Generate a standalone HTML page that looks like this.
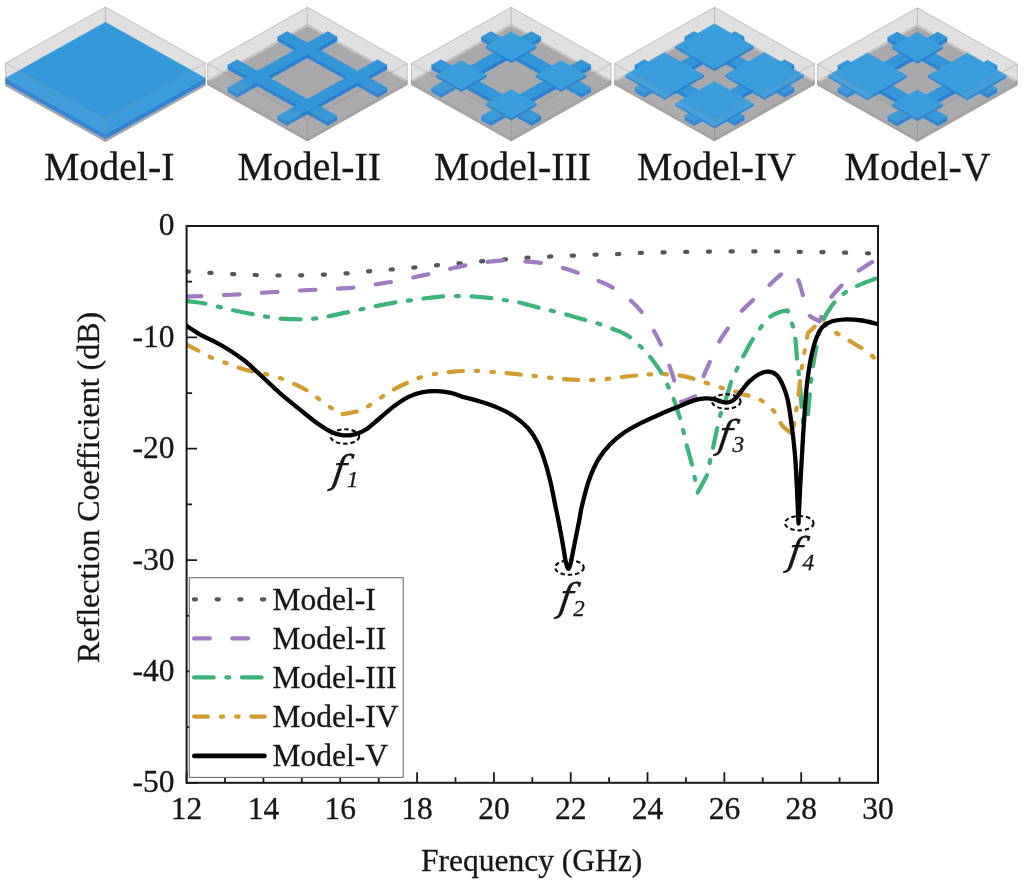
<!DOCTYPE html>
<html lang="en"><head><meta charset="utf-8"><title>Reflection coefficient of Model-I to Model-V</title>
<style>html,body{margin:0;padding:0;background:#fff}body{width:1025px;height:889px;overflow:hidden}svg{display:block}text{font-family:"Liberation Serif","Times New Roman",serif;fill:#161616;stroke:#161616;stroke-width:0.3px}</style>
</head><body>
<svg width="1025" height="889" viewBox="0 0 1025 889" role="img" aria-label="Reflection coefficient versus frequency for Model-I to Model-V">
<rect width="1025" height="889" fill="#ffffff"/>
<g><polygon points="105.40,7.10 205.20,63.00 205.20,85.60 105.40,141.50 5.60,85.60 5.60,63.00" fill="#e0e0e0" stroke="#e0e0e0" stroke-width="0.5" stroke-linejoin="round"/><polygon points="5.60,83.20 105.40,139.10 205.20,83.20 205.20,85.60 105.40,141.50 5.60,85.60" fill="#a6a6a9" stroke="#a6a6a9" stroke-width="0.5" stroke-linejoin="round"/><polygon points="5.60,78.10 105.40,134.00 105.40,139.10 5.60,83.20" fill="#2b7fd0" stroke="#2b7fd0" stroke-width="0.5" stroke-linejoin="round"/><polygon points="205.20,78.10 105.40,134.00 105.40,139.10 205.20,83.20" fill="#2b7fd0" stroke="#2b7fd0" stroke-width="0.5" stroke-linejoin="round"/><polygon points="105.40,22.20 205.20,78.10 105.40,134.00 5.60,78.10" fill="#3499da" stroke="#3499da" stroke-width="0.5" stroke-linejoin="round"/><polygon points="5.60,63.00 105.40,118.90 105.40,141.50 5.60,85.60" fill="#e8e8e8" fill-opacity="0.07"/><polygon points="205.20,63.00 105.40,118.90 105.40,141.50 205.20,85.60" fill="#e8e8e8" fill-opacity="0.04"/><polygon points="105.40,7.10 205.20,63.00 105.40,118.90 5.60,63.00" stroke="#8c8c8c" stroke-width="0.7" fill="none" stroke-opacity="0.6"/><line x1="5.60" y1="63.00" x2="5.60" y2="85.60" stroke="#8c8c8c" stroke-width="0.7" fill="none" stroke-opacity="0.6"/><line x1="205.20" y1="63.00" x2="205.20" y2="85.60" stroke="#8c8c8c" stroke-width="0.7" fill="none" stroke-opacity="0.6"/><line x1="105.40" y1="118.90" x2="105.40" y2="141.50" stroke="#8c8c8c" stroke-width="0.7" fill="none" stroke-opacity="0.6"/><line x1="105.40" y1="7.10" x2="105.40" y2="22.20" stroke="#9a9a9a" stroke-width="0.7" stroke-opacity="0.7"/><line x1="5.60" y1="85.60" x2="105.40" y2="141.50" stroke="#8c8c8c" stroke-width="0.7" fill="none" stroke-opacity="0.6"/><line x1="105.40" y1="141.50" x2="205.20" y2="85.60" stroke="#8c8c8c" stroke-width="0.7" fill="none" stroke-opacity="0.6"/></g>
<g><polygon points="307.40,7.30 407.20,63.60 407.20,84.60 307.40,140.90 207.60,84.60 207.60,63.60" fill="#e0e0e0" stroke="#e0e0e0" stroke-width="0.5" stroke-linejoin="round"/><polygon points="207.60,80.60 307.40,136.90 407.20,80.60 407.20,84.60 307.40,140.90 207.60,84.60" fill="#a2a2a5" stroke="#a2a2a5" stroke-width="0.5" stroke-linejoin="round"/><polygon points="307.40,24.30 407.20,80.60 307.40,136.90 207.60,80.60" fill="#a9a9ac" stroke="#a9a9ac" stroke-width="0.5" stroke-linejoin="round"/><polygon points="207.60,80.60 307.40,24.30 407.20,80.60 403.65,80.60 307.40,26.30 211.15,80.60" fill="#c6c6c8"/><polygon points="277.76,37.02 377.56,93.32 377.56,97.32 277.76,41.02" fill="#2c84d2" stroke="#2c84d2" stroke-width="0.5" stroke-linejoin="round"/><polygon points="386.94,88.03 377.56,93.32 377.56,97.32 386.94,92.03" fill="#2a7ecf" stroke="#2a7ecf" stroke-width="0.5" stroke-linejoin="round"/><polygon points="287.14,31.73 386.94,88.03 377.56,93.32 277.76,37.02" fill="#3296d8" stroke="#3296d8" stroke-width="0.5" stroke-linejoin="round"/><polygon points="227.86,88.03 237.24,93.32 237.24,97.32 227.86,92.03" fill="#2c84d2" stroke="#2c84d2" stroke-width="0.5" stroke-linejoin="round"/><polygon points="337.04,37.02 237.24,93.32 237.24,97.32 337.04,41.02" fill="#2a7ecf" stroke="#2a7ecf" stroke-width="0.5" stroke-linejoin="round"/><polygon points="327.66,31.73 337.04,37.02 237.24,93.32 227.86,88.03" fill="#3296d8" stroke="#3296d8" stroke-width="0.5" stroke-linejoin="round"/><polygon points="227.86,65.17 327.66,121.47 327.66,125.47 227.86,69.17" fill="#2c84d2" stroke="#2c84d2" stroke-width="0.5" stroke-linejoin="round"/><polygon points="337.04,116.18 327.66,121.47 327.66,125.47 337.04,120.18" fill="#2a7ecf" stroke="#2a7ecf" stroke-width="0.5" stroke-linejoin="round"/><polygon points="237.24,59.88 337.04,116.18 327.66,121.47 227.86,65.17" fill="#3296d8" stroke="#3296d8" stroke-width="0.5" stroke-linejoin="round"/><polygon points="277.76,116.18 287.14,121.47 287.14,125.47 277.76,120.18" fill="#2c84d2" stroke="#2c84d2" stroke-width="0.5" stroke-linejoin="round"/><polygon points="386.94,65.17 287.14,121.47 287.14,125.47 386.94,69.17" fill="#2a7ecf" stroke="#2a7ecf" stroke-width="0.5" stroke-linejoin="round"/><polygon points="377.56,59.88 386.94,65.17 287.14,121.47 277.76,116.18" fill="#3296d8" stroke="#3296d8" stroke-width="0.5" stroke-linejoin="round"/><polygon points="287.14,31.73 386.94,88.03 377.56,93.32 277.76,37.02" fill="#3296d8" stroke="#3296d8" stroke-width="0.5" stroke-linejoin="round"/><polygon points="327.66,31.73 337.04,37.02 237.24,93.32 227.86,88.03" fill="#3296d8" stroke="#3296d8" stroke-width="0.5" stroke-linejoin="round"/><polygon points="237.24,59.88 337.04,116.18 327.66,121.47 227.86,65.17" fill="#3296d8" stroke="#3296d8" stroke-width="0.5" stroke-linejoin="round"/><polygon points="377.56,59.88 386.94,65.17 287.14,121.47 277.76,116.18" fill="#3296d8" stroke="#3296d8" stroke-width="0.5" stroke-linejoin="round"/><polygon points="207.60,63.60 307.40,119.90 307.40,140.90 207.60,84.60" fill="#e8e8e8" fill-opacity="0.07"/><polygon points="407.20,63.60 307.40,119.90 307.40,140.90 407.20,84.60" fill="#e8e8e8" fill-opacity="0.04"/><polygon points="307.40,7.30 407.20,63.60 307.40,119.90 207.60,63.60" stroke="#8c8c8c" stroke-width="0.7" fill="none" stroke-opacity="0.6"/><line x1="207.60" y1="63.60" x2="207.60" y2="84.60" stroke="#8c8c8c" stroke-width="0.7" fill="none" stroke-opacity="0.6"/><line x1="407.20" y1="63.60" x2="407.20" y2="84.60" stroke="#8c8c8c" stroke-width="0.7" fill="none" stroke-opacity="0.6"/><line x1="307.40" y1="119.90" x2="307.40" y2="140.90" stroke="#8c8c8c" stroke-width="0.7" fill="none" stroke-opacity="0.6"/><line x1="307.40" y1="7.30" x2="307.40" y2="24.30" stroke="#9a9a9a" stroke-width="0.7" stroke-opacity="0.7"/><line x1="207.60" y1="84.60" x2="307.40" y2="140.90" stroke="#8c8c8c" stroke-width="0.7" fill="none" stroke-opacity="0.6"/><line x1="307.40" y1="140.90" x2="407.20" y2="84.60" stroke="#8c8c8c" stroke-width="0.7" fill="none" stroke-opacity="0.6"/></g>
<g><polygon points="511.20,7.30 611.00,63.60 611.00,84.60 511.20,140.90 411.40,84.60 411.40,63.60" fill="#e0e0e0" stroke="#e0e0e0" stroke-width="0.5" stroke-linejoin="round"/><polygon points="411.40,80.60 511.20,136.90 611.00,80.60 611.00,84.60 511.20,140.90 411.40,84.60" fill="#a2a2a5" stroke="#a2a2a5" stroke-width="0.5" stroke-linejoin="round"/><polygon points="511.20,24.30 611.00,80.60 511.20,136.90 411.40,80.60" fill="#a9a9ac" stroke="#a9a9ac" stroke-width="0.5" stroke-linejoin="round"/><polygon points="411.40,80.60 511.20,24.30 611.00,80.60 607.45,80.60 511.20,26.30 414.95,80.60" fill="#c6c6c8"/><polygon points="481.56,37.02 581.36,93.32 581.36,97.32 481.56,41.02" fill="#2c84d2" stroke="#2c84d2" stroke-width="0.5" stroke-linejoin="round"/><polygon points="590.74,88.03 581.36,93.32 581.36,97.32 590.74,92.03" fill="#2a7ecf" stroke="#2a7ecf" stroke-width="0.5" stroke-linejoin="round"/><polygon points="490.94,31.73 590.74,88.03 581.36,93.32 481.56,37.02" fill="#3296d8" stroke="#3296d8" stroke-width="0.5" stroke-linejoin="round"/><polygon points="431.66,88.03 441.04,93.32 441.04,97.32 431.66,92.03" fill="#2c84d2" stroke="#2c84d2" stroke-width="0.5" stroke-linejoin="round"/><polygon points="540.84,37.02 441.04,93.32 441.04,97.32 540.84,41.02" fill="#2a7ecf" stroke="#2a7ecf" stroke-width="0.5" stroke-linejoin="round"/><polygon points="531.46,31.73 540.84,37.02 441.04,93.32 431.66,88.03" fill="#3296d8" stroke="#3296d8" stroke-width="0.5" stroke-linejoin="round"/><polygon points="431.66,65.17 531.46,121.47 531.46,125.47 431.66,69.17" fill="#2c84d2" stroke="#2c84d2" stroke-width="0.5" stroke-linejoin="round"/><polygon points="540.84,116.18 531.46,121.47 531.46,125.47 540.84,120.18" fill="#2a7ecf" stroke="#2a7ecf" stroke-width="0.5" stroke-linejoin="round"/><polygon points="441.04,59.88 540.84,116.18 531.46,121.47 431.66,65.17" fill="#3296d8" stroke="#3296d8" stroke-width="0.5" stroke-linejoin="round"/><polygon points="481.56,116.18 490.94,121.47 490.94,125.47 481.56,120.18" fill="#2c84d2" stroke="#2c84d2" stroke-width="0.5" stroke-linejoin="round"/><polygon points="590.74,65.17 490.94,121.47 490.94,125.47 590.74,69.17" fill="#2a7ecf" stroke="#2a7ecf" stroke-width="0.5" stroke-linejoin="round"/><polygon points="581.36,59.88 590.74,65.17 490.94,121.47 481.56,116.18" fill="#3296d8" stroke="#3296d8" stroke-width="0.5" stroke-linejoin="round"/><polygon points="490.94,31.73 590.74,88.03 581.36,93.32 481.56,37.02" fill="#3296d8" stroke="#3296d8" stroke-width="0.5" stroke-linejoin="round"/><polygon points="531.46,31.73 540.84,37.02 441.04,93.32 431.66,88.03" fill="#3296d8" stroke="#3296d8" stroke-width="0.5" stroke-linejoin="round"/><polygon points="441.04,59.88 540.84,116.18 531.46,121.47 431.66,65.17" fill="#3296d8" stroke="#3296d8" stroke-width="0.5" stroke-linejoin="round"/><polygon points="581.36,59.88 590.74,65.17 490.94,121.47 481.56,116.18" fill="#3296d8" stroke="#3296d8" stroke-width="0.5" stroke-linejoin="round"/><polygon points="486.25,46.15 511.20,60.52 511.20,62.72 486.25,48.35" fill="#2c84d2" stroke="#2c84d2" stroke-width="0.5" stroke-linejoin="round"/><polygon points="536.15,46.15 511.20,60.52 511.20,62.72 536.15,48.35" fill="#2a7ecf" stroke="#2a7ecf" stroke-width="0.5" stroke-linejoin="round"/><polygon points="511.20,31.78 536.15,46.15 511.20,60.52 486.25,46.15" fill="#3a9edd" stroke="#3a9edd" stroke-width="0.5" stroke-linejoin="round"/><polygon points="436.35,74.90 461.30,89.27 461.30,91.47 436.35,77.10" fill="#2c84d2" stroke="#2c84d2" stroke-width="0.5" stroke-linejoin="round"/><polygon points="486.25,74.90 461.30,89.27 461.30,91.47 486.25,77.10" fill="#2a7ecf" stroke="#2a7ecf" stroke-width="0.5" stroke-linejoin="round"/><polygon points="461.30,60.52 486.25,74.90 461.30,89.27 436.35,74.90" fill="#3a9edd" stroke="#3a9edd" stroke-width="0.5" stroke-linejoin="round"/><polygon points="536.15,74.90 561.10,89.27 561.10,91.47 536.15,77.10" fill="#2c84d2" stroke="#2c84d2" stroke-width="0.5" stroke-linejoin="round"/><polygon points="586.05,74.90 561.10,89.27 561.10,91.47 586.05,77.10" fill="#2a7ecf" stroke="#2a7ecf" stroke-width="0.5" stroke-linejoin="round"/><polygon points="561.10,60.52 586.05,74.90 561.10,89.27 536.15,74.90" fill="#3a9edd" stroke="#3a9edd" stroke-width="0.5" stroke-linejoin="round"/><polygon points="486.25,103.65 511.20,118.02 511.20,120.22 486.25,105.85" fill="#2c84d2" stroke="#2c84d2" stroke-width="0.5" stroke-linejoin="round"/><polygon points="536.15,103.65 511.20,118.02 511.20,120.22 536.15,105.85" fill="#2a7ecf" stroke="#2a7ecf" stroke-width="0.5" stroke-linejoin="round"/><polygon points="511.20,89.27 536.15,103.65 511.20,118.02 486.25,103.65" fill="#3a9edd" stroke="#3a9edd" stroke-width="0.5" stroke-linejoin="round"/><polygon points="411.40,63.60 511.20,119.90 511.20,140.90 411.40,84.60" fill="#e8e8e8" fill-opacity="0.07"/><polygon points="611.00,63.60 511.20,119.90 511.20,140.90 611.00,84.60" fill="#e8e8e8" fill-opacity="0.04"/><polygon points="511.20,7.30 611.00,63.60 511.20,119.90 411.40,63.60" stroke="#8c8c8c" stroke-width="0.7" fill="none" stroke-opacity="0.6"/><line x1="411.40" y1="63.60" x2="411.40" y2="84.60" stroke="#8c8c8c" stroke-width="0.7" fill="none" stroke-opacity="0.6"/><line x1="611.00" y1="63.60" x2="611.00" y2="84.60" stroke="#8c8c8c" stroke-width="0.7" fill="none" stroke-opacity="0.6"/><line x1="511.20" y1="119.90" x2="511.20" y2="140.90" stroke="#8c8c8c" stroke-width="0.7" fill="none" stroke-opacity="0.6"/><line x1="511.20" y1="7.30" x2="511.20" y2="24.30" stroke="#9a9a9a" stroke-width="0.7" stroke-opacity="0.7"/><line x1="411.40" y1="84.60" x2="511.20" y2="140.90" stroke="#8c8c8c" stroke-width="0.7" fill="none" stroke-opacity="0.6"/><line x1="511.20" y1="140.90" x2="611.00" y2="84.60" stroke="#8c8c8c" stroke-width="0.7" fill="none" stroke-opacity="0.6"/></g>
<g><polygon points="714.50,7.30 814.30,63.60 814.30,84.60 714.50,140.90 614.70,84.60 614.70,63.60" fill="#e0e0e0" stroke="#e0e0e0" stroke-width="0.5" stroke-linejoin="round"/><polygon points="614.70,80.60 714.50,136.90 814.30,80.60 814.30,84.60 714.50,140.90 614.70,84.60" fill="#a2a2a5" stroke="#a2a2a5" stroke-width="0.5" stroke-linejoin="round"/><polygon points="714.50,24.30 814.30,80.60 714.50,136.90 614.70,80.60" fill="#a9a9ac" stroke="#a9a9ac" stroke-width="0.5" stroke-linejoin="round"/><polygon points="614.70,80.60 714.50,24.30 814.30,80.60 810.75,80.60 714.50,26.30 618.25,80.60" fill="#c6c6c8"/><polygon points="684.86,37.02 784.66,93.32 784.66,97.32 684.86,41.02" fill="#2c84d2" stroke="#2c84d2" stroke-width="0.5" stroke-linejoin="round"/><polygon points="794.04,88.03 784.66,93.32 784.66,97.32 794.04,92.03" fill="#2a7ecf" stroke="#2a7ecf" stroke-width="0.5" stroke-linejoin="round"/><polygon points="694.24,31.73 794.04,88.03 784.66,93.32 684.86,37.02" fill="#3296d8" stroke="#3296d8" stroke-width="0.5" stroke-linejoin="round"/><polygon points="634.96,88.03 644.34,93.32 644.34,97.32 634.96,92.03" fill="#2c84d2" stroke="#2c84d2" stroke-width="0.5" stroke-linejoin="round"/><polygon points="744.14,37.02 644.34,93.32 644.34,97.32 744.14,41.02" fill="#2a7ecf" stroke="#2a7ecf" stroke-width="0.5" stroke-linejoin="round"/><polygon points="734.76,31.73 744.14,37.02 644.34,93.32 634.96,88.03" fill="#3296d8" stroke="#3296d8" stroke-width="0.5" stroke-linejoin="round"/><polygon points="634.96,65.17 734.76,121.47 734.76,125.47 634.96,69.17" fill="#2c84d2" stroke="#2c84d2" stroke-width="0.5" stroke-linejoin="round"/><polygon points="744.14,116.18 734.76,121.47 734.76,125.47 744.14,120.18" fill="#2a7ecf" stroke="#2a7ecf" stroke-width="0.5" stroke-linejoin="round"/><polygon points="644.34,59.88 744.14,116.18 734.76,121.47 634.96,65.17" fill="#3296d8" stroke="#3296d8" stroke-width="0.5" stroke-linejoin="round"/><polygon points="684.86,116.18 694.24,121.47 694.24,125.47 684.86,120.18" fill="#2c84d2" stroke="#2c84d2" stroke-width="0.5" stroke-linejoin="round"/><polygon points="794.04,65.17 694.24,121.47 694.24,125.47 794.04,69.17" fill="#2a7ecf" stroke="#2a7ecf" stroke-width="0.5" stroke-linejoin="round"/><polygon points="784.66,59.88 794.04,65.17 694.24,121.47 684.86,116.18" fill="#3296d8" stroke="#3296d8" stroke-width="0.5" stroke-linejoin="round"/><polygon points="694.24,31.73 794.04,88.03 784.66,93.32 684.86,37.02" fill="#3296d8" stroke="#3296d8" stroke-width="0.5" stroke-linejoin="round"/><polygon points="734.76,31.73 744.14,37.02 644.34,93.32 634.96,88.03" fill="#3296d8" stroke="#3296d8" stroke-width="0.5" stroke-linejoin="round"/><polygon points="644.34,59.88 744.14,116.18 734.76,121.47 634.96,65.17" fill="#3296d8" stroke="#3296d8" stroke-width="0.5" stroke-linejoin="round"/><polygon points="784.66,59.88 794.04,65.17 694.24,121.47 684.86,116.18" fill="#3296d8" stroke="#3296d8" stroke-width="0.5" stroke-linejoin="round"/><polygon points="675.58,46.15 714.50,68.58 714.50,70.78 675.58,48.35" fill="#2c84d2" stroke="#2c84d2" stroke-width="0.5" stroke-linejoin="round"/><polygon points="753.42,46.15 714.50,68.58 714.50,70.78 753.42,48.35" fill="#2a7ecf" stroke="#2a7ecf" stroke-width="0.5" stroke-linejoin="round"/><polygon points="714.50,23.73 753.42,46.15 714.50,68.58 675.58,46.15" fill="#3a9edd" stroke="#3a9edd" stroke-width="0.5" stroke-linejoin="round"/><polygon points="625.68,74.90 664.60,97.33 664.60,99.53 625.68,77.10" fill="#2c84d2" stroke="#2c84d2" stroke-width="0.5" stroke-linejoin="round"/><polygon points="703.52,74.90 664.60,97.33 664.60,99.53 703.52,77.10" fill="#2a7ecf" stroke="#2a7ecf" stroke-width="0.5" stroke-linejoin="round"/><polygon points="664.60,52.47 703.52,74.90 664.60,97.33 625.68,74.90" fill="#3a9edd" stroke="#3a9edd" stroke-width="0.5" stroke-linejoin="round"/><polygon points="725.48,74.90 764.40,97.33 764.40,99.53 725.48,77.10" fill="#2c84d2" stroke="#2c84d2" stroke-width="0.5" stroke-linejoin="round"/><polygon points="803.32,74.90 764.40,97.33 764.40,99.53 803.32,77.10" fill="#2a7ecf" stroke="#2a7ecf" stroke-width="0.5" stroke-linejoin="round"/><polygon points="764.40,52.47 803.32,74.90 764.40,97.33 725.48,74.90" fill="#3a9edd" stroke="#3a9edd" stroke-width="0.5" stroke-linejoin="round"/><polygon points="675.58,103.65 714.50,126.07 714.50,128.27 675.58,105.85" fill="#2c84d2" stroke="#2c84d2" stroke-width="0.5" stroke-linejoin="round"/><polygon points="753.42,103.65 714.50,126.07 714.50,128.27 753.42,105.85" fill="#2a7ecf" stroke="#2a7ecf" stroke-width="0.5" stroke-linejoin="round"/><polygon points="714.50,81.22 753.42,103.65 714.50,126.07 675.58,103.65" fill="#3a9edd" stroke="#3a9edd" stroke-width="0.5" stroke-linejoin="round"/><polygon points="614.70,63.60 714.50,119.90 714.50,140.90 614.70,84.60" fill="#e8e8e8" fill-opacity="0.07"/><polygon points="814.30,63.60 714.50,119.90 714.50,140.90 814.30,84.60" fill="#e8e8e8" fill-opacity="0.04"/><polygon points="714.50,7.30 814.30,63.60 714.50,119.90 614.70,63.60" stroke="#8c8c8c" stroke-width="0.7" fill="none" stroke-opacity="0.6"/><line x1="614.70" y1="63.60" x2="614.70" y2="84.60" stroke="#8c8c8c" stroke-width="0.7" fill="none" stroke-opacity="0.6"/><line x1="814.30" y1="63.60" x2="814.30" y2="84.60" stroke="#8c8c8c" stroke-width="0.7" fill="none" stroke-opacity="0.6"/><line x1="714.50" y1="119.90" x2="714.50" y2="140.90" stroke="#8c8c8c" stroke-width="0.7" fill="none" stroke-opacity="0.6"/><line x1="714.50" y1="7.30" x2="714.50" y2="24.30" stroke="#9a9a9a" stroke-width="0.7" stroke-opacity="0.7"/><line x1="614.70" y1="84.60" x2="714.50" y2="140.90" stroke="#8c8c8c" stroke-width="0.7" fill="none" stroke-opacity="0.6"/><line x1="714.50" y1="140.90" x2="814.30" y2="84.60" stroke="#8c8c8c" stroke-width="0.7" fill="none" stroke-opacity="0.6"/></g>
<g><polygon points="917.40,7.80 1017.20,64.10 1017.20,85.10 917.40,141.40 817.60,85.10 817.60,64.10" fill="#e0e0e0" stroke="#e0e0e0" stroke-width="0.5" stroke-linejoin="round"/><polygon points="817.60,81.10 917.40,137.40 1017.20,81.10 1017.20,85.10 917.40,141.40 817.60,85.10" fill="#a2a2a5" stroke="#a2a2a5" stroke-width="0.5" stroke-linejoin="round"/><polygon points="917.40,24.80 1017.20,81.10 917.40,137.40 817.60,81.10" fill="#a9a9ac" stroke="#a9a9ac" stroke-width="0.5" stroke-linejoin="round"/><polygon points="817.60,81.10 917.40,24.80 1017.20,81.10 1013.65,81.10 917.40,26.80 821.15,81.10" fill="#c6c6c8"/><polygon points="887.76,37.52 987.56,93.82 987.56,97.82 887.76,41.52" fill="#2c84d2" stroke="#2c84d2" stroke-width="0.5" stroke-linejoin="round"/><polygon points="996.94,88.53 987.56,93.82 987.56,97.82 996.94,92.53" fill="#2a7ecf" stroke="#2a7ecf" stroke-width="0.5" stroke-linejoin="round"/><polygon points="897.14,32.23 996.94,88.53 987.56,93.82 887.76,37.52" fill="#3296d8" stroke="#3296d8" stroke-width="0.5" stroke-linejoin="round"/><polygon points="837.86,88.53 847.24,93.82 847.24,97.82 837.86,92.53" fill="#2c84d2" stroke="#2c84d2" stroke-width="0.5" stroke-linejoin="round"/><polygon points="947.04,37.52 847.24,93.82 847.24,97.82 947.04,41.52" fill="#2a7ecf" stroke="#2a7ecf" stroke-width="0.5" stroke-linejoin="round"/><polygon points="937.66,32.23 947.04,37.52 847.24,93.82 837.86,88.53" fill="#3296d8" stroke="#3296d8" stroke-width="0.5" stroke-linejoin="round"/><polygon points="837.86,65.67 937.66,121.97 937.66,125.97 837.86,69.67" fill="#2c84d2" stroke="#2c84d2" stroke-width="0.5" stroke-linejoin="round"/><polygon points="947.04,116.68 937.66,121.97 937.66,125.97 947.04,120.68" fill="#2a7ecf" stroke="#2a7ecf" stroke-width="0.5" stroke-linejoin="round"/><polygon points="847.24,60.38 947.04,116.68 937.66,121.97 837.86,65.67" fill="#3296d8" stroke="#3296d8" stroke-width="0.5" stroke-linejoin="round"/><polygon points="887.76,116.68 897.14,121.97 897.14,125.97 887.76,120.68" fill="#2c84d2" stroke="#2c84d2" stroke-width="0.5" stroke-linejoin="round"/><polygon points="996.94,65.67 897.14,121.97 897.14,125.97 996.94,69.67" fill="#2a7ecf" stroke="#2a7ecf" stroke-width="0.5" stroke-linejoin="round"/><polygon points="987.56,60.38 996.94,65.67 897.14,121.97 887.76,116.68" fill="#3296d8" stroke="#3296d8" stroke-width="0.5" stroke-linejoin="round"/><polygon points="897.14,32.23 996.94,88.53 987.56,93.82 887.76,37.52" fill="#3296d8" stroke="#3296d8" stroke-width="0.5" stroke-linejoin="round"/><polygon points="937.66,32.23 947.04,37.52 847.24,93.82 837.86,88.53" fill="#3296d8" stroke="#3296d8" stroke-width="0.5" stroke-linejoin="round"/><polygon points="847.24,60.38 947.04,116.68 937.66,121.97 837.86,65.67" fill="#3296d8" stroke="#3296d8" stroke-width="0.5" stroke-linejoin="round"/><polygon points="987.56,60.38 996.94,65.67 897.14,121.97 887.76,116.68" fill="#3296d8" stroke="#3296d8" stroke-width="0.5" stroke-linejoin="round"/><polygon points="892.45,46.65 917.40,61.02 917.40,63.22 892.45,48.85" fill="#2c84d2" stroke="#2c84d2" stroke-width="0.5" stroke-linejoin="round"/><polygon points="942.35,46.65 917.40,61.02 917.40,63.22 942.35,48.85" fill="#2a7ecf" stroke="#2a7ecf" stroke-width="0.5" stroke-linejoin="round"/><polygon points="917.40,32.28 942.35,46.65 917.40,61.02 892.45,46.65" fill="#3a9edd" stroke="#3a9edd" stroke-width="0.5" stroke-linejoin="round"/><polygon points="828.58,75.40 867.50,97.83 867.50,100.03 828.58,77.60" fill="#2c84d2" stroke="#2c84d2" stroke-width="0.5" stroke-linejoin="round"/><polygon points="906.42,75.40 867.50,97.83 867.50,100.03 906.42,77.60" fill="#2a7ecf" stroke="#2a7ecf" stroke-width="0.5" stroke-linejoin="round"/><polygon points="867.50,52.97 906.42,75.40 867.50,97.83 828.58,75.40" fill="#3a9edd" stroke="#3a9edd" stroke-width="0.5" stroke-linejoin="round"/><polygon points="928.38,75.40 967.30,97.83 967.30,100.03 928.38,77.60" fill="#2c84d2" stroke="#2c84d2" stroke-width="0.5" stroke-linejoin="round"/><polygon points="1006.22,75.40 967.30,97.83 967.30,100.03 1006.22,77.60" fill="#2a7ecf" stroke="#2a7ecf" stroke-width="0.5" stroke-linejoin="round"/><polygon points="967.30,52.97 1006.22,75.40 967.30,97.83 928.38,75.40" fill="#3a9edd" stroke="#3a9edd" stroke-width="0.5" stroke-linejoin="round"/><polygon points="892.45,104.15 917.40,118.52 917.40,120.72 892.45,106.35" fill="#2c84d2" stroke="#2c84d2" stroke-width="0.5" stroke-linejoin="round"/><polygon points="942.35,104.15 917.40,118.52 917.40,120.72 942.35,106.35" fill="#2a7ecf" stroke="#2a7ecf" stroke-width="0.5" stroke-linejoin="round"/><polygon points="917.40,89.77 942.35,104.15 917.40,118.52 892.45,104.15" fill="#3a9edd" stroke="#3a9edd" stroke-width="0.5" stroke-linejoin="round"/><polygon points="817.60,64.10 917.40,120.40 917.40,141.40 817.60,85.10" fill="#e8e8e8" fill-opacity="0.07"/><polygon points="1017.20,64.10 917.40,120.40 917.40,141.40 1017.20,85.10" fill="#e8e8e8" fill-opacity="0.04"/><polygon points="917.40,7.80 1017.20,64.10 917.40,120.40 817.60,64.10" stroke="#8c8c8c" stroke-width="0.7" fill="none" stroke-opacity="0.6"/><line x1="817.60" y1="64.10" x2="817.60" y2="85.10" stroke="#8c8c8c" stroke-width="0.7" fill="none" stroke-opacity="0.6"/><line x1="1017.20" y1="64.10" x2="1017.20" y2="85.10" stroke="#8c8c8c" stroke-width="0.7" fill="none" stroke-opacity="0.6"/><line x1="917.40" y1="120.40" x2="917.40" y2="141.40" stroke="#8c8c8c" stroke-width="0.7" fill="none" stroke-opacity="0.6"/><line x1="917.40" y1="7.80" x2="917.40" y2="24.80" stroke="#9a9a9a" stroke-width="0.7" stroke-opacity="0.7"/><line x1="817.60" y1="85.10" x2="917.40" y2="141.40" stroke="#8c8c8c" stroke-width="0.7" fill="none" stroke-opacity="0.6"/><line x1="917.40" y1="141.40" x2="1017.20" y2="85.10" stroke="#8c8c8c" stroke-width="0.7" fill="none" stroke-opacity="0.6"/></g>
<text x="109.2" y="179.8" font-size="39.8" text-anchor="middle">Model-I</text>
<text x="309.3" y="179.8" font-size="39.8" text-anchor="middle">Model-II</text>
<text x="512.5" y="179.8" font-size="39.8" text-anchor="middle">Model-III</text>
<text x="716.5" y="179.8" font-size="39.8" text-anchor="middle">Model-IV</text>
<text x="917.5" y="179.8" font-size="39.8" text-anchor="middle">Model-V</text>
<defs><clipPath id="pc"><rect x="186.6" y="226.0" width="691.4" height="556.8"/></clipPath></defs>
<g clip-path="url(#pc)" fill="none" stroke-linecap="round" stroke-linejoin="round">
<path d="M186.70 271.40C194.60 271.90 202.62 272.45 210.40 272.90C218.18 273.35 225.87 273.75 233.40 274.10C240.93 274.45 248.10 274.77 255.60 275.00C263.10 275.23 270.87 275.45 278.40 275.50C285.93 275.55 293.27 275.45 300.80 275.30C308.33 275.15 316.02 274.92 323.60 274.60C331.18 274.28 338.70 273.95 346.30 273.40C353.90 272.85 361.60 271.97 369.20 271.30C376.80 270.63 384.32 270.03 391.90 269.40C399.48 268.77 407.10 268.20 414.70 267.50C422.30 266.80 429.92 265.90 437.50 265.20C445.08 264.50 452.72 263.97 460.20 263.30C467.68 262.63 474.87 261.87 482.40 261.20C489.93 260.53 497.82 259.88 505.40 259.30C512.98 258.72 520.37 258.17 527.90 257.70C535.43 257.23 543.03 256.85 550.60 256.50C558.17 256.15 565.73 255.90 573.30 255.60C580.87 255.30 588.47 254.97 596.00 254.70C603.53 254.43 610.98 254.30 618.50 254.00C626.02 253.70 633.52 253.18 641.10 252.90C648.68 252.62 656.40 252.47 664.00 252.30C671.60 252.13 679.12 252.02 686.70 251.90C694.28 251.78 701.97 251.68 709.50 251.60C717.03 251.52 724.37 251.43 731.90 251.40C739.43 251.37 747.12 251.38 754.70 251.40C762.28 251.42 769.87 251.43 777.40 251.50C784.93 251.57 792.33 251.68 799.90 251.80C807.47 251.92 815.20 252.05 822.80 252.20C830.40 252.35 837.92 252.52 845.50 252.70C853.08 252.88 862.80 253.15 868.30 253.30C873.40 253.44 875.10 253.50 878.50 253.60" stroke="#55565a" stroke-width="4.2" stroke-dasharray="2.2 20.5"/>
<path d="M185.90 296.60C191.93 296.40 197.77 296.23 204.00 296.00C210.23 295.77 216.97 295.50 223.30 295.20C229.63 294.90 235.63 294.60 242.00 294.20C248.37 293.80 255.13 293.22 261.50 292.80C267.87 292.38 273.80 292.08 280.20 291.70C286.60 291.32 293.50 290.85 299.90 290.50C306.30 290.15 312.25 289.92 318.60 289.60C324.95 289.28 331.63 289.00 338.00 288.60C344.37 288.20 350.35 287.93 356.80 287.20C363.25 286.47 370.45 285.17 376.70 284.20C382.95 283.23 388.05 282.57 394.30 281.40C400.55 280.23 407.98 278.53 414.20 277.20C420.42 275.87 425.38 274.85 431.60 273.40C437.82 271.95 445.13 269.98 451.50 268.50C457.87 267.02 463.55 265.63 469.80 264.50C476.05 263.37 482.75 262.40 489.00 261.70C495.25 261.00 500.87 260.30 507.30 260.30C513.73 260.30 521.20 261.12 527.60 261.70C534.00 262.28 539.33 262.63 545.70 263.80C552.07 264.97 559.63 266.90 565.80 268.70C571.97 270.50 576.97 272.45 582.70 274.60C588.43 276.75 594.55 279.07 600.20 281.60C605.85 284.13 611.38 286.52 616.60 289.80C621.82 293.08 627.03 297.23 631.50 301.30C635.97 305.37 639.45 308.88 643.40 314.20C647.35 319.52 651.97 327.43 655.20 333.20C658.43 338.97 660.27 342.90 662.80 348.80C665.33 354.70 668.22 362.43 670.40 368.60C672.58 374.77 674.08 380.18 675.90 385.80C677.72 391.42 679.50 396.80 681.30 402.30C686.37 400.13 691.43 397.97 696.50 395.80C698.77 389.43 701.00 382.50 703.30 376.70C705.60 370.90 707.70 366.73 710.30 361.00C712.90 355.27 715.93 347.78 718.90 342.30C721.87 336.82 724.55 333.05 728.10 328.10C731.65 323.15 736.05 317.27 740.20 312.60C744.35 307.93 748.48 304.37 753.00 300.10C757.52 295.83 762.65 291.27 767.30 287.00C771.95 282.73 777.20 277.25 780.90 274.50C784.60 271.75 786.63 271.83 789.50 270.50C792.27 273.40 795.52 274.90 797.80 279.20C800.08 283.50 801.70 290.92 803.20 296.30C804.70 301.68 805.33 307.97 806.80 311.50C808.27 315.03 809.87 315.88 812.00 317.50C814.13 319.12 817.07 319.97 819.60 321.20C822.47 314.73 825.08 307.17 828.20 301.80C831.32 296.43 833.88 293.68 838.30 289.00C842.72 284.32 849.48 277.93 854.70 273.70C859.92 269.47 865.63 266.13 869.60 263.60C873.57 261.07 875.53 260.20 878.50 258.50" stroke="#9f7bc1" stroke-width="4.2" stroke-dasharray="15.6 22.45"/>
<path d="M185.90 300.80C192.53 301.80 200.15 302.75 205.80 303.80C211.45 304.85 215.32 306.03 219.80 307.10C224.28 308.17 227.03 308.98 232.70 310.20C238.37 311.42 248.13 313.32 253.80 314.40C259.47 315.48 262.22 316.00 266.70 316.70C271.18 317.40 274.85 318.17 280.70 318.60C286.55 319.03 296.13 319.30 301.80 319.30C307.47 319.30 310.42 319.07 314.70 318.60C318.98 318.13 321.85 317.60 327.50 316.50C333.15 315.40 342.73 313.25 348.60 312.00C354.47 310.75 358.20 309.97 362.70 309.00C367.20 308.03 369.95 307.33 375.60 306.20C381.25 305.07 390.75 303.18 396.60 302.20C402.45 301.22 406.23 300.92 410.70 300.30C415.17 299.68 417.97 299.17 423.40 298.50C428.83 297.83 437.63 296.70 443.30 296.30C448.97 295.90 452.72 296.10 457.40 296.10C462.08 296.10 465.55 295.95 471.40 296.30C477.25 296.65 486.83 297.53 492.50 298.20C498.17 298.87 500.98 299.60 505.40 300.30C509.82 301.00 513.35 301.15 519.00 302.40C524.65 303.65 533.77 306.38 539.30 307.80C544.83 309.22 547.78 309.80 552.20 310.90C556.62 312.00 560.13 312.85 565.80 314.40C571.47 315.95 580.73 318.65 586.20 320.20C591.67 321.75 594.50 322.37 598.60 323.70C602.70 325.03 607.23 326.88 610.80 328.20C614.37 329.52 616.90 330.17 620.00 331.60C623.10 333.03 626.28 334.58 629.40 336.80C632.52 339.02 635.58 341.98 638.70 344.90C641.82 347.82 644.32 349.67 648.10 354.30C651.88 358.93 658.15 367.55 661.40 372.70C664.65 377.85 665.65 381.08 667.60 385.20C669.55 389.32 671.07 391.98 673.10 397.40C675.13 402.82 678.12 412.18 679.80 417.70C681.48 423.22 682.07 426.00 683.20 430.50C684.33 435.00 685.13 438.97 686.60 444.70C688.07 450.43 690.65 459.40 692.00 464.90C693.35 470.40 693.75 473.08 694.70 477.70C695.65 482.32 696.70 487.63 697.70 492.60C700.97 486.53 704.23 480.47 707.50 474.40C708.40 469.67 709.18 465.05 710.20 460.20C711.22 455.35 712.37 450.93 713.60 445.30C714.83 439.67 716.37 431.80 717.60 426.40C718.83 421.00 719.57 417.63 721.00 412.90C722.43 408.17 724.45 403.32 726.20 398.00C727.95 392.68 729.68 385.87 731.50 381.00C733.32 376.13 735.13 372.92 737.10 368.80C739.07 364.68 740.72 361.22 743.30 356.30C745.88 351.38 749.75 344.02 752.60 339.30C755.45 334.58 757.68 331.60 760.40 328.00C763.12 324.40 765.80 320.32 768.90 317.70C772.00 315.08 775.88 313.52 779.00 312.30C782.12 311.08 784.73 311.03 787.60 310.40C789.17 315.07 791.00 319.58 792.30 324.40C793.60 329.22 794.62 333.58 795.40 339.30C796.18 345.02 796.48 353.38 797.00 358.70C797.52 364.02 797.98 366.52 798.50 371.20C799.02 375.88 799.57 380.83 800.10 386.80C800.63 392.77 801.20 400.93 801.70 407.00C802.20 413.07 802.63 417.80 803.10 423.20C804.50 422.63 805.90 422.07 807.30 421.50C808.03 413.27 808.93 403.15 809.50 396.80C810.07 390.45 810.18 388.03 810.70 383.40C811.22 378.77 811.75 374.57 812.60 369.00C813.45 363.43 814.23 357.62 815.80 350.00C817.37 342.38 819.42 330.55 822.00 323.30C824.58 316.05 828.18 311.00 831.30 306.50C834.42 302.00 837.18 299.37 840.70 296.30C844.22 293.23 847.07 290.88 852.40 288.10C857.73 285.32 868.35 281.32 872.70 279.60C875.52 278.49 876.57 278.40 878.50 277.80" stroke="#3cb37a" stroke-width="4.2" stroke-dasharray="19.79 12.71 3.04 12.71"/>
<path d="M185.90 344.10C190.57 346.60 195.42 349.25 199.90 351.60C204.38 353.95 208.32 356.25 212.80 358.20C217.28 360.15 222.32 361.67 226.80 363.30C231.28 364.93 235.40 366.63 239.70 368.00C244.00 369.37 247.92 370.40 252.60 371.50C257.28 372.60 262.85 373.37 267.80 374.60C272.75 375.83 277.80 377.30 282.30 378.90C286.80 380.50 290.50 382.15 294.80 384.20C299.10 386.25 304.07 388.73 308.10 391.20C312.13 393.67 315.10 396.18 319.00 399.00C322.90 401.82 327.87 405.52 331.50 408.10C335.13 410.68 337.70 412.37 340.80 414.50C347.07 413.23 354.52 412.42 359.60 410.70C364.68 408.98 367.27 406.72 371.30 404.20C375.33 401.68 379.63 398.28 383.80 395.60C387.97 392.92 391.75 390.52 396.30 388.10C400.85 385.68 406.58 383.05 411.10 381.10C415.62 379.15 418.82 377.68 423.40 376.40C427.98 375.12 433.92 374.17 438.60 373.40C443.28 372.63 446.62 372.23 451.50 371.80C456.38 371.37 463.02 370.93 467.90 370.80C472.78 370.67 476.12 370.77 480.80 371.00C485.48 371.23 491.32 371.80 496.00 372.20C500.68 372.60 504.02 372.93 508.90 373.40C513.78 373.87 520.42 374.50 525.30 375.00C530.18 375.50 533.52 375.88 538.20 376.40C542.88 376.92 548.53 377.62 553.40 378.10C558.27 378.58 562.33 378.98 567.40 379.30C572.47 379.62 579.00 379.93 583.80 380.00C588.60 380.07 591.58 379.95 596.20 379.70C600.82 379.45 606.75 379.00 611.50 378.50C616.25 378.00 619.90 377.27 624.70 376.70C629.50 376.13 635.88 375.50 640.30 375.10C644.72 374.70 646.78 374.43 651.20 374.30C655.62 374.17 661.60 374.03 666.80 374.30C672.00 374.57 677.18 374.93 682.40 375.90C687.62 376.87 693.93 378.87 698.10 380.10C702.27 381.33 704.80 382.50 707.40 383.30C710.00 384.10 711.23 384.12 713.70 384.90C716.17 385.68 719.87 387.25 722.20 388.00C724.53 388.75 724.97 388.63 727.70 389.40C730.43 390.17 736.03 391.73 738.60 392.60C740.93 393.39 740.73 393.92 743.10 394.60C745.67 395.33 750.48 395.70 754.00 397.00C757.52 398.30 760.55 399.67 764.20 402.40C767.85 405.13 772.92 409.55 775.90 413.40C778.88 417.25 779.75 422.38 782.10 425.50C784.45 428.62 788.18 430.52 790.00 432.10C791.57 433.47 792.00 434.03 793.00 435.00C793.53 429.60 793.87 424.10 794.60 418.80C795.33 413.50 796.62 408.27 797.40 403.20C798.18 398.13 798.72 393.22 799.30 388.40C799.88 383.58 800.30 378.85 800.90 374.30C801.50 369.75 802.12 365.82 802.90 361.10C803.68 356.38 804.77 350.68 805.60 346.00C806.43 341.32 807.13 337.33 807.90 333.00C811.80 329.37 817.08 324.10 819.60 322.10C821.00 320.99 821.87 321.37 823.00 321.00C825.27 323.60 826.47 326.15 829.80 328.80C833.13 331.45 838.85 334.37 843.00 336.90C847.15 339.43 850.67 341.53 854.70 344.00C858.73 346.47 863.55 349.03 867.20 351.70C870.85 354.37 874.72 358.28 876.60 360.00C877.62 360.93 877.87 361.33 878.50 362.00" stroke="#d29c2e" stroke-width="4.2" stroke-dasharray="14.0 12.95 2.55 13.0 2.55 12.85"/>
<path d="M185.90 325.40C190.97 328.67 196.23 332.47 201.10 335.20C205.97 337.93 210.22 339.22 215.10 341.80C219.98 344.38 225.32 347.42 230.40 350.70C235.48 353.98 241.12 357.92 245.60 361.50C250.08 365.08 252.62 367.88 257.30 372.20C261.98 376.52 269.55 383.57 273.70 387.40C277.85 391.23 277.80 391.48 282.20 395.20C286.73 399.03 295.05 405.72 300.90 410.40C306.75 415.08 312.23 419.70 317.30 423.30C322.37 426.90 327.02 430.00 331.30 432.00C335.58 434.00 339.08 434.92 343.00 435.30C346.92 435.68 350.88 435.32 354.80 434.30C358.72 433.28 362.22 432.00 366.50 429.20C370.78 426.40 375.82 421.40 380.50 417.50C385.18 413.60 389.92 409.23 394.60 405.80C399.28 402.37 403.92 399.17 408.60 396.90C413.28 394.63 418.02 393.15 422.70 392.20C427.38 391.25 432.02 391.08 436.70 391.20C441.38 391.32 446.58 392.00 450.80 392.90C455.02 393.80 457.35 395.23 462.00 396.60C466.65 397.97 472.78 399.27 478.70 401.10C484.62 402.93 491.63 405.07 497.50 407.60C503.37 410.13 508.83 412.90 513.90 416.30C518.97 419.70 524.00 423.70 527.90 428.00C531.80 432.30 534.57 436.83 537.30 442.10C540.03 447.37 542.15 453.17 544.30 459.60C546.45 466.03 548.33 472.88 550.20 480.70C552.07 488.52 554.15 499.95 555.50 506.50C556.85 513.05 557.15 514.10 558.30 520.00C559.45 525.90 561.23 535.35 562.40 541.90C563.57 548.45 564.53 555.22 565.30 559.30C565.97 562.89 566.48 564.82 567.00 566.40C567.43 567.72 567.93 568.80 568.40 568.80C568.87 568.80 569.37 567.72 569.80 566.40C570.32 564.82 570.76 562.87 571.50 559.30C572.35 555.22 573.60 548.45 574.90 541.90C576.20 535.35 578.15 525.90 579.30 520.00C580.45 514.10 580.22 513.05 581.80 506.50C583.38 499.95 586.07 488.52 588.80 480.70C591.53 472.88 594.68 465.65 598.20 459.60C601.72 453.55 605.62 448.88 609.90 444.40C614.18 439.92 618.83 436.22 623.90 432.70C628.97 429.18 634.43 426.30 640.30 423.30C646.17 420.30 652.85 417.43 659.10 414.70C665.35 411.97 671.98 409.28 677.80 406.90C683.62 404.52 689.50 401.82 694.00 400.40C698.50 398.98 701.65 398.67 704.80 398.40C707.95 398.13 710.27 398.30 712.90 398.80C715.53 399.30 718.42 400.77 720.60 401.40C722.78 402.03 724.20 402.60 726.00 402.60C727.80 402.60 729.60 402.32 731.40 401.40C733.20 400.48 735.00 399.02 736.80 397.10C738.60 395.18 740.10 392.52 742.20 389.90C744.30 387.28 746.65 384.00 749.40 381.40C752.15 378.80 755.58 375.92 758.70 374.30C761.82 372.68 765.10 371.57 768.10 371.70C771.10 371.83 774.23 372.83 776.70 375.10C779.17 377.37 781.08 381.27 782.90 385.30C784.72 389.33 786.30 393.83 787.60 399.30C788.90 404.77 789.78 411.85 790.70 418.10C791.62 424.35 792.32 429.82 793.10 436.80C793.88 443.78 794.75 451.13 795.40 460.00C796.05 468.87 796.48 479.42 797.00 490.00C797.52 500.58 798.00 512.33 798.50 523.50C799.00 512.33 799.47 500.58 800.00 490.00C800.53 479.42 801.17 469.38 801.70 460.00C802.23 450.62 802.68 442.00 803.20 433.70C803.72 425.40 804.28 417.48 804.80 410.20C805.32 402.92 805.65 396.50 806.30 390.00C806.95 383.50 807.78 377.20 808.70 371.20C809.62 365.20 810.50 359.58 811.80 354.00C813.10 348.42 814.68 342.23 816.50 337.70C818.32 333.17 820.10 329.53 822.70 326.80C825.30 324.07 828.20 322.55 832.10 321.30C836.00 320.05 841.15 319.43 846.10 319.30C851.05 319.17 856.40 319.67 861.80 320.50C867.20 321.33 872.93 323.03 878.50 324.30" stroke="#000000" stroke-width="4.3" stroke-linejoin="round"/>
</g>
<path d="M186.60 782.80V772.30M225.01 782.80V777.30M263.42 782.80V772.30M301.83 782.80V777.30M340.24 782.80V772.30M378.66 782.80V777.30M417.07 782.80V772.30M455.48 782.80V777.30M493.89 782.80V772.30M532.30 782.80V777.30M570.71 782.80V772.30M609.12 782.80V777.30M647.53 782.80V772.30M685.94 782.80V777.30M724.36 782.80V772.30M762.77 782.80V777.30M801.18 782.80V772.30M839.59 782.80V777.30M878.00 782.80V772.30M186.60 226.00H197.10M186.60 281.68H192.10M186.60 337.36H197.10M186.60 393.04H192.10M186.60 448.72H197.10M186.60 504.40H192.10M186.60 560.08H197.10M186.60 615.76H192.10M186.60 671.44H197.10M186.60 727.12H192.10M186.60 782.80H197.10" stroke="#1a1a1a" stroke-width="1.8" fill="none"/>
<rect x="189.3" y="577.7" width="213.9" height="199.7" fill="#ffffff" stroke="#6e6e6e" stroke-width="1.1"/>
<g fill="none" stroke-linecap="round">
<path d="M193.9 599.3H266" stroke="#55565a" stroke-width="4.2" stroke-dasharray="2.2 20.5"/>
<path d="M194.1 638.4H250" stroke="#9f7bc1" stroke-width="4.2" stroke-dasharray="15.7 22.5"/>
<path d="M194.1 677.4H261.5" stroke="#3cb37a" stroke-width="4.2" stroke-dasharray="19.6 12.6 3 12.6"/>
<path d="M194.1 716.6H264.7" stroke="#d29c2e" stroke-width="4.2" stroke-dasharray="13.8 12.8 2.5 12.9 2.5 12.7"/>
<path d="M194.3 755.9H264.5" stroke="#000000" stroke-width="4.6"/>
</g>
<text x="272.6" y="610.3" font-size="31.5">Model-I</text>
<text x="272.6" y="649.2" font-size="31.5">Model-II</text>
<text x="272.6" y="688.1" font-size="31.5">Model-III</text>
<text x="272.6" y="726.9" font-size="31.5">Model-IV</text>
<text x="272.6" y="765.6" font-size="31.5">Model-V</text>
<rect x="186.6" y="226.0" width="691.4" height="556.8" fill="none" stroke="#1a1a1a" stroke-width="2"/>
<text x="186.6" y="818.5" font-size="31.5" text-anchor="middle">12</text>
<text x="263.4" y="818.5" font-size="31.5" text-anchor="middle">14</text>
<text x="340.2" y="818.5" font-size="31.5" text-anchor="middle">16</text>
<text x="417.1" y="818.5" font-size="31.5" text-anchor="middle">18</text>
<text x="493.9" y="818.5" font-size="31.5" text-anchor="middle">20</text>
<text x="570.7" y="818.5" font-size="31.5" text-anchor="middle">22</text>
<text x="647.5" y="818.5" font-size="31.5" text-anchor="middle">24</text>
<text x="724.4" y="818.5" font-size="31.5" text-anchor="middle">26</text>
<text x="801.2" y="818.5" font-size="31.5" text-anchor="middle">28</text>
<text x="878.0" y="818.5" font-size="31.5" text-anchor="middle">30</text>
<text x="174.5" y="235.4" font-size="31.5" text-anchor="end">0</text>
<text x="174.5" y="346.8" font-size="31.5" text-anchor="end">-10</text>
<text x="174.5" y="458.1" font-size="31.5" text-anchor="end">-20</text>
<text x="174.5" y="569.5" font-size="31.5" text-anchor="end">-30</text>
<text x="174.5" y="680.8" font-size="31.5" text-anchor="end">-40</text>
<text x="174.5" y="792.2" font-size="31.5" text-anchor="end">-50</text>
<text x="531.7" y="870.6" font-size="31.5" text-anchor="middle">Frequency (GHz)</text>
<text transform="translate(99.2 487.4) rotate(-90)" font-size="32" text-anchor="middle">Reflection Coefficient (dB)</text>
<ellipse cx="344.9" cy="436.5" rx="14.3" ry="7.2" fill="none" stroke="#0a0a0a" stroke-width="2.1" stroke-dasharray="4.4 2.9"/>
<ellipse cx="569.5" cy="567.6" rx="14.3" ry="7.2" fill="none" stroke="#0a0a0a" stroke-width="2.1" stroke-dasharray="4.4 2.9"/>
<ellipse cx="726.3" cy="401.5" rx="14.3" ry="7.2" fill="none" stroke="#0a0a0a" stroke-width="2.1" stroke-dasharray="4.4 2.9"/>
<ellipse cx="799.3" cy="523.2" rx="14.3" ry="7.2" fill="none" stroke="#0a0a0a" stroke-width="2.1" stroke-dasharray="4.4 2.9"/>
<text transform="translate(330.8 482.7) skewX(-8)" font-size="38.5" font-style="italic" style="font-family:'DejaVu Serif','Liberation Serif',serif">f</text>
<text x="346.7" y="487.3" font-size="23.4" font-style="italic">1</text>
<text transform="translate(557.2 611.3) skewX(-8)" font-size="38.5" font-style="italic" style="font-family:'DejaVu Serif','Liberation Serif',serif">f</text>
<text x="573.1" y="615.9" font-size="23.4" font-style="italic">2</text>
<text transform="translate(716.5 447.5) skewX(-8)" font-size="38.5" font-style="italic" style="font-family:'DejaVu Serif','Liberation Serif',serif">f</text>
<text x="732.4" y="452.1" font-size="23.4" font-style="italic">3</text>
<text transform="translate(786.6 565.0) skewX(-8)" font-size="38.5" font-style="italic" style="font-family:'DejaVu Serif','Liberation Serif',serif">f</text>
<text x="802.5" y="569.6" font-size="23.4" font-style="italic">4</text>
</svg>
</body></html>
